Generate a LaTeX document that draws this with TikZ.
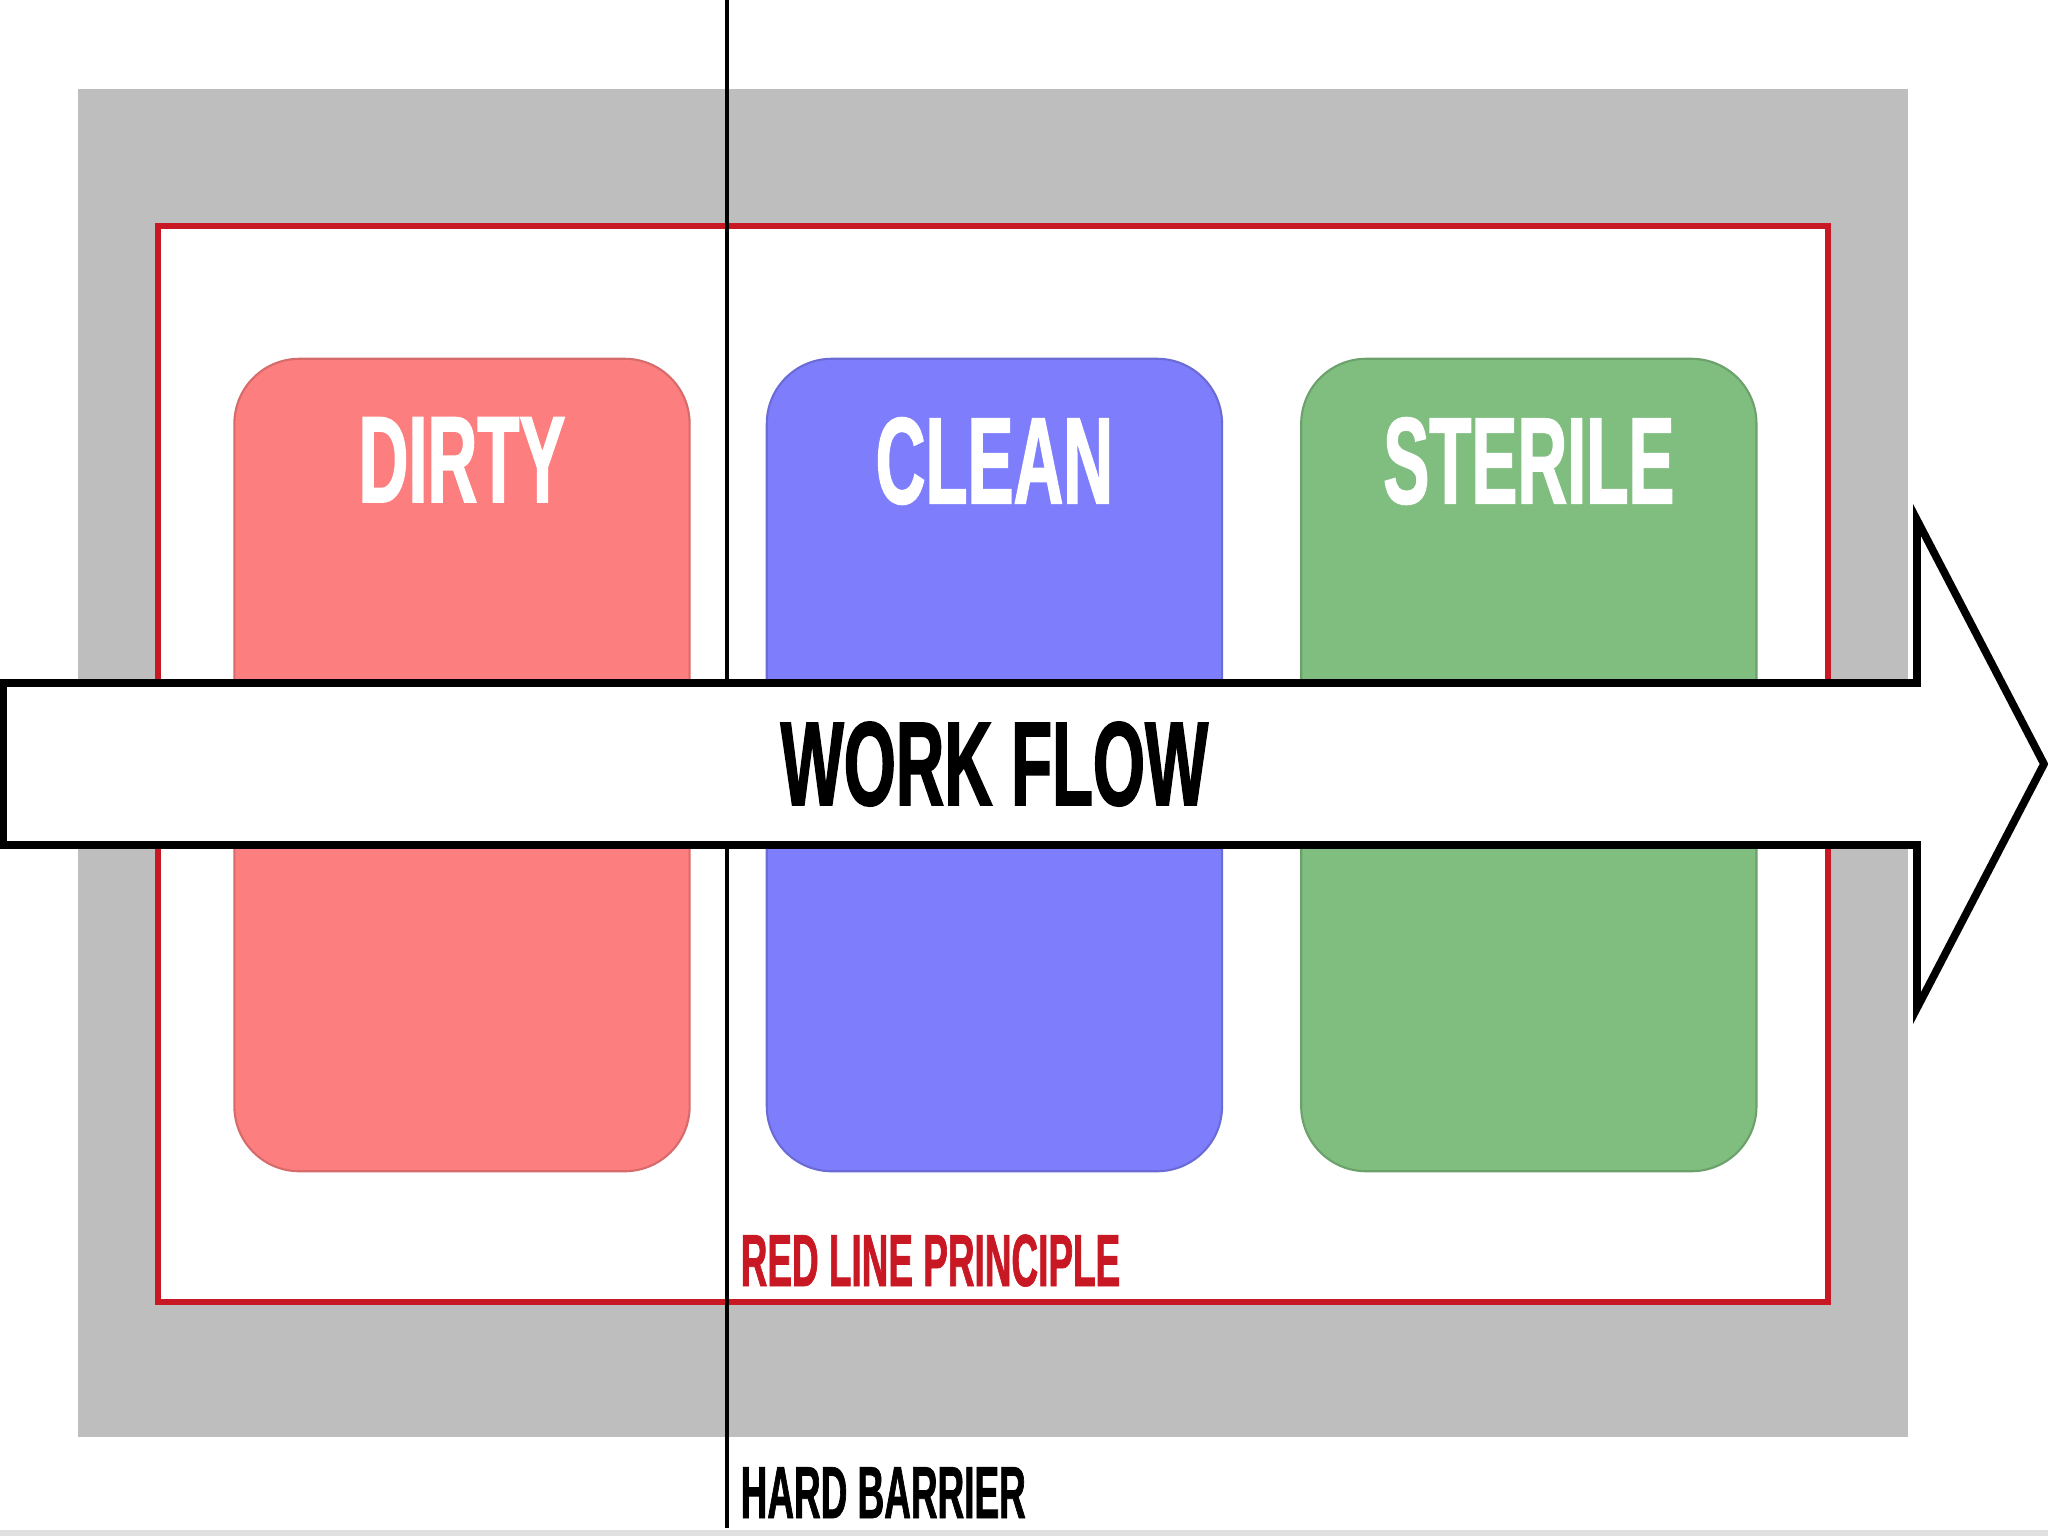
\documentclass[tikz,border=0pt]{standalone}
\usepackage{fontspec}
\setmainfont{Liberation Sans}
\newfontfamily\condfont[FakeStretch=0.56,FakeBold=1.2]{Liberation Sans Bold}
\newfontfamily\tagfont[FakeStretch=0.5,FakeBold=0.9]{Liberation Sans Bold}
\usetikzlibrary{positioning}

\begin{document}
\begin{tikzpicture}[x=0.01cm,y=-0.01cm,
	room/.style={rectangle,rounded corners=0.65cm,line width=0.6pt,
		minimum width=4.55cm,minimum height=8.12cm,inner sep=0pt},
	room title/.style={text=white,inner sep=0pt,
		font=\condfont\fontsize{35}{40}\selectfont},
	tag/.style={inner sep=0pt,anchor=base west,
		font=\tagfont\fontsize{21}{24}\selectfont},
	flowline/.style={draw=black,fill=white,line width=2.2pt},
	barrier/.style={draw=black,line width=1.2pt}]

	\definecolor{framegray}{RGB}{190,190,190}
	\definecolor{redline}{RGB}{200,24,36}
	\definecolor{dirtyred}{RGB}{253,126,126}
	\definecolor{cleanblue}{RGB}{126,126,253}
	\definecolor{sterilegreen}{RGB}{127,190,127}

	\useasboundingbox (0,0) rectangle (2048,1536);
	\fill[black!12] (0,1530) rectangle (2048,1536);

	% building and red line zone
	\node[fill=framegray,inner sep=0pt,minimum width=18.29cm,minimum height=13.48cm] (hall) at (993,763) {};
	\node[draw=redline,fill=white,line width=1.8pt,inner sep=0pt,
		minimum width=16.69cm,minimum height=10.75cm] (zone) at (993,764) {};

	% the three rooms
	\node[room,fill=dirtyred,draw=dirtyred!85!black] (dirty) at (462,765) {};
	\node[room,fill=cleanblue,draw=cleanblue!85!black] (clean) [right=0.75cm of dirty] {};
	\node[room,fill=sterilegreen,draw=sterilegreen!85!black] (sterile) [right=0.77cm of clean] {};

	\node[room title] (dirtytitle) [below=0.59cm of dirty.north] {DIRTY};
	\node[room title] (cleantitle) [below=0.59cm of clean.north] {CLEAN};
	\node[room title] (steriletitle) [below=0.59cm of sterile.north] {STERILE};

	% hard barrier
	\coordinate (bartop) at (727,0);
	\coordinate (barend) at (727,1528);
	\draw[barrier] (bartop) -- (barend);

	% work flow arrow
	\coordinate (flowmid) at (3,764);
	\draw[flowline] (3,683) -- (1917,683) -- (1917,520) -- (2044,764)
		-- (1917,1008) -- (1917,845) -- (3,845) -- cycle;
	\node[inner sep=0pt,font=\condfont\fontsize{34}{40}\selectfont] (flow) at (clean |- flowmid) {WORK FLOW};

	\node[tag,text=redline] (redtag) at (740,1286) {RED LINE PRINCIPLE};
	\node[tag] (bartag) at (740,1518) {HARD BARRIER};
\end{tikzpicture}
\end{document}
